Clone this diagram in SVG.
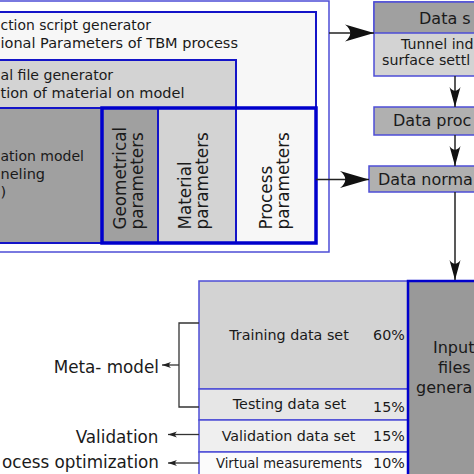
<svg xmlns="http://www.w3.org/2000/svg" width="474" height="474" viewBox="0 0 474 474">
<defs>
<style>
text{font-family:"DejaVu Sans","Liberation Sans",sans-serif;fill:#1a1a1a}
.thin{stroke:#4d4dd6;stroke-width:1.5}
.mid{stroke:#1414c8;stroke-width:2}
.thick{stroke:#0000cc;stroke-width:3.5;fill:none}
.f14{font-size:14.5px}
.f16{font-size:16px}
.f17{font-size:16.8px}
.conn{fill:none;stroke:#222;stroke-width:1.5}
.br{fill:none;stroke:#333;stroke-width:1.3}
</style>
<marker id="ahL" markerUnits="userSpaceOnUse" orient="auto" style="overflow:visible"><path d="M0,0 L-29,-8.5 C-22,-3 -22,3 -29,8.5 Z" fill="#111"/></marker>
<marker id="ahM" markerUnits="userSpaceOnUse" orient="auto" style="overflow:visible"><path d="M0,0 L-20,-5.5 C-15,-2 -15,2 -20,5.5 Z" fill="#111"/></marker>
<marker id="ahS" markerUnits="userSpaceOnUse" orient="auto" style="overflow:visible"><path d="M0,0 L-9,-3 C-6.5,-1 -6.5,1 -9,3 Z" fill="#222"/></marker>
</defs>
<rect x="0" y="0" width="474" height="474" fill="#ffffff"/>

<g id="outer-box">
<rect x="-60" y="1" width="389" height="251" fill="#ffffff" class="thin"/>
</g>
<g id="script-generator">
<rect x="-60" y="12" width="376" height="231" fill="#f7f7f7" class="mid"/>
<text x="0.5" y="29.5" style="font-size:13.9px">ction script generator</text>
<text class="f14" x="0.5" y="47.5">ional Parameters of TBM process</text>
</g>
<g id="material-file-generator">
<rect x="-60" y="60" width="296" height="183" fill="#d3d3d3" class="mid"/>
<text x="0.5" y="80" style="font-size:14.1px">al file generator</text>
<text class="f14" x="0.5" y="98">tion of material on model</text>
</g>
<g id="simulation-model">
<rect x="-60" y="108" width="162" height="135" fill="#a0a0a0" class="mid"/>
<text x="0.5" y="160.5" style="font-size:14px">ation model</text>
<text class="f14" x="0.5" y="178.5">neling</text>
<text class="f14" x="0.5" y="196.5">)</text>
</g>
<g id="geometrical-parameters">
<rect x="102" y="108" width="56" height="135" fill="#a0a0a0"/>
<text class="f17" transform="rotate(-90)" x="-229.5" y="125.5">Geometrical</text>
<text class="f17" transform="rotate(-90)" x="-229.5" y="142.5">parameters</text>
</g>
<g id="material-parameters">
<rect x="158" y="108" width="78" height="135" fill="#d3d3d3"/>
<text class="f17" transform="rotate(-90)" x="-229.5" y="191">Material</text>
<text class="f17" transform="rotate(-90)" x="-229.5" y="208">parameters</text>
</g>
<g id="process-parameters">
<rect x="236" y="108" width="80" height="135" fill="#f7f7f7"/>
<text class="f17" transform="rotate(-90)" x="-229.5" y="272">Process</text>
<text class="f17" transform="rotate(-90)" x="-229.5" y="289">parameters</text>
</g>
<g id="parameters-frame">
<line x1="158" y1="108" x2="158" y2="243" class="mid"/>
<line x1="236" y1="108" x2="236" y2="243" class="mid"/>
<rect x="102" y="108" width="214" height="135" class="thick"/>
</g>

<g id="data-set">
<rect x="374" y="2" width="120" height="74" fill="#d3d3d3" class="thin"/>
<rect x="374" y="2" width="120" height="31" fill="#a0a0a0" class="thin"/>
<text class="f16" x="419" y="23.5">Data s</text>
<text x="401" y="48.5" style="font-size:14.2px">Tunnel ind</text>
<text x="382" y="65" style="font-size:14.2px">surface settl</text>
</g>
<g id="data-processing">
<rect x="374" y="107" width="120" height="28" fill="#b0b0b0" class="thin"/>
<text class="f16" x="393" y="126">Data proc</text>
</g>
<g id="data-normalization">
<rect x="369" y="166" width="125" height="26" fill="#b0b0b0" class="thin"/>
<text class="f16" x="378" y="184.5">Data norma</text>
</g>

<g id="data-table">
<rect x="199" y="281" width="209" height="108" fill="#d3d3d3" class="thin"/>
<rect x="199" y="389" width="209" height="31" fill="#e6e6e6" class="thin"/>
<rect x="199" y="420" width="209" height="32" fill="#efefef" class="thin"/>
<rect x="199" y="452" width="209" height="30" fill="#fbfbfb" class="thin"/>
<text x="289" y="340" text-anchor="middle" style="font-size:14.3px">Training data set</text>
<text x="389" y="340" text-anchor="middle" style="font-size:14.3px">60%</text>
<text x="289.5" y="409" text-anchor="middle" style="font-size:14.3px">Testing data set</text>
<text x="389" y="412" text-anchor="middle" style="font-size:14.3px">15%</text>
<text x="288.5" y="440.5" text-anchor="middle" style="font-size:14.3px">Validation data set</text>
<text x="389" y="440.5" text-anchor="middle" style="font-size:14.3px">15%</text>
<text x="289" y="467.5" text-anchor="middle" style="font-size:13.2px">Virtual measurements</text>
<text x="389" y="468" text-anchor="middle" style="font-size:14.3px">10%</text>
</g>
<g id="input-files-generator">
<rect x="408" y="281" width="100" height="200" fill="#999999" stroke="#0000cc" stroke-width="2.5"/>
<text class="f16" x="433" y="353">Input</text>
<text class="f16" x="438" y="373">files</text>
<text class="f16" x="416" y="393">genera</text>
</g>

<g id="labels">
<text class="f17" x="159" y="372.5" text-anchor="end">Meta- model</text>
<text class="f17" x="158.5" y="443" text-anchor="end">Validation</text>
<text class="f17" x="159" y="468" text-anchor="end">ocess optimization</text>
</g>

<g id="connectors">
<path d="M329,33 H374" class="conn" marker-end="url(#ahL)"/>
<path d="M316,179.5 H369" class="conn" marker-end="url(#ahL)"/>
<path d="M455,76 V107" class="conn" marker-end="url(#ahM)"/>
<path d="M455,135 V166" class="conn" marker-end="url(#ahM)"/>
<path d="M455,192 V280" class="conn" marker-end="url(#ahM)"/>
<path d="M199,323 H179 V407 H199" class="br"/>
<path d="M179,365 H162" class="br" marker-end="url(#ahS)"/>
<path d="M199,434.5 H168" class="br" marker-end="url(#ahS)"/>
<path d="M199,463 H168" class="br" marker-end="url(#ahS)"/>
</g>
</svg>
